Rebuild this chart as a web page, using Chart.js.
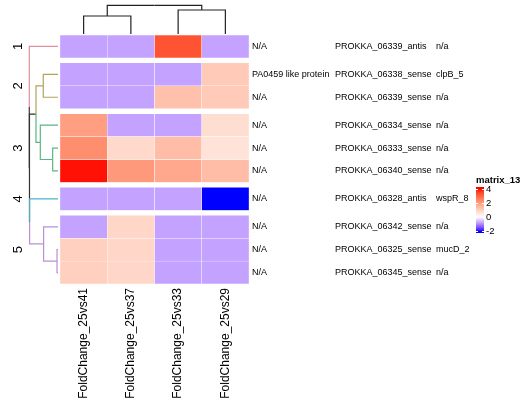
<!DOCTYPE html>
<html>
<head>
<meta charset="utf-8">
<script src="https://cdn.jsdelivr.net/npm/chart.js@4.4.1/dist/chart.umd.min.js"></script>
<style>
  html, body { margin: 0; padding: 0; background: #fff; }
  canvas { display: block; }
</style>
</head>
<body>
<canvas id="heatmap" width="528" height="406"></canvas>
<script>
// columns and rows, in the order the heatmap shows them
const colLabels = ['FoldChange_25vs41', 'FoldChange_25vs37', 'FoldChange_25vs33', 'FoldChange_25vs29'];
const rowDesc = ['N/A', 'PA0459 like protein', 'N/A', 'N/A', 'N/A', 'N/A', 'N/A', 'N/A', 'N/A', 'N/A'];
const rowIds = ['PROKKA_06339_antis', 'PROKKA_06338_sense', 'PROKKA_06339_sense', 'PROKKA_06334_sense',
  'PROKKA_06333_sense', 'PROKKA_06340_sense', 'PROKKA_06328_antis', 'PROKKA_06342_sense',
  'PROKKA_06325_sense', 'PROKKA_06345_sense'];
const rowGenes = ['n/a', 'clpB_5', 'n/a', 'n/a', 'n/a', 'n/a', 'wspR_8', 'n/a', 'mucD_2', 'n/a'];
const rowCluster = [1, 2, 2, 3, 3, 3, 4, 5, 5, 5];

// values per column
const fc25vs41 = [-0.8, -0.8, -0.8, 2.0, 2.3, 3.95, -0.8, -0.8, 1.0, 1.0];
const fc25vs37 = [-0.8, -0.8, -0.8, -0.8, 0.8, 2.1, -0.8, 0.85, 0.85, 0.85];
const fc25vs33 = [3.3, -0.8, 1.3, -0.8, 1.4, 1.8, -0.8, -0.8, -0.8, -0.8];
const fc25vs29 = [-0.8, 1.1, 1.1, 0.7, 0.6, 1.4, -2.0, -0.8, -0.8, -0.8];

// colour key
const legendTicks = [-2, 0, 2, 4];
const colourStops = [[-2, [0, 0, 255]], [0, [255, 255, 255]], [4, [255, 0, 0]]];

// dendrograms, hclust style: negative = leaf (1-based), positive = earlier merge
const rowMerges = [[-9, -10, 0.021], [-8, 1, 0.305], [-5, -6, 0.113], [-4, 3, 0.375], [-2, -3, 0.312],
  [5, 4, 0.466], [-7, 2, 0.601], [6, 7, 0.604], [-1, 8, 0.608]];
const colMerges = [[-1, -2, 0.786], [-3, -4, 1.048], [1, 2, 1.253]];
const clusterColours = ['#E28EA2', '#B5A25A', '#58B682', '#4EB2CC', '#B98FD9'];

// --- colour mapping in Lab space (like colorRamp2) ---
function toLin(c) { c /= 255; return c <= 0.04045 ? c / 12.92 : Math.pow((c + 0.055) / 1.055, 2.4); }
function toSrgb(c) { c = Math.min(1, Math.max(0, c)); return 255 * (c <= 0.0031308 ? 12.92 * c : 1.055 * Math.pow(c, 1 / 2.4) - 0.055); }
function rgbToLab([r, g, b]) {
    r = toLin(r); g = toLin(g); b = toLin(b);
    const X = (0.4124 * r + 0.3576 * g + 0.1805 * b) / 0.95047;
    const Y = 0.2126 * r + 0.7152 * g + 0.0722 * b;
    const Z = (0.0193 * r + 0.1192 * g + 0.9505 * b) / 1.08883;
    const f = t => t > 0.008856 ? Math.cbrt(t) : 7.787 * t + 16 / 116;
    return [116 * f(Y) - 16, 500 * (f(X) - f(Y)), 200 * (f(Y) - f(Z))];
}
function labToRgb([L, a, b]) {
    const fy = (L + 16) / 116, fx = fy + a / 500, fz = fy - b / 200;
    const inv = t => t ** 3 > 0.008856 ? t ** 3 : (t - 16 / 116) / 7.787;
    const X = 0.95047 * inv(fx), Y = inv(fy), Z = 1.08883 * inv(fz);
    return [toSrgb(3.2406 * X - 1.5372 * Y - 0.4986 * Z),
        toSrgb(-0.9689 * X + 1.8758 * Y + 0.0415 * Z),
        toSrgb(0.0557 * X - 0.2040 * Y + 1.0570 * Z)];
}
function colour(v) {
    v = Math.min(colourStops[colourStops.length - 1][0], Math.max(colourStops[0][0], v));
    let i = 0;
    while (i < colourStops.length - 2 && v > colourStops[i + 1][0]) i++;
    const [v0, c0] = colourStops[i], [v1, c1] = colourStops[i + 1];
    const t = (v - v0) / (v1 - v0);
    const l0 = rgbToLab(c0), l1 = rgbToLab(c1);
    const rgb = labToRgb(l0.map((x, k) => x + (l1[k] - x) * t));
    return 'rgb(' + rgb.map(Math.round).join(',') + ')';
}

// --- row layout: a small gap between clusters ---
const GAP = 0.22;
const rowTop = rowCluster.map((c, i) => i + GAP * (c - 1));
const rowMid = rowTop.map(t => t + 0.5);
const Y_MAX = rowCluster.length + GAP * (Math.max(...rowCluster) - 1);
const ROW_LEAF_X = -0.042;
const COL_LEAF_Y = -0.044;

const columns = [fc25vs41, fc25vs37, fc25vs33, fc25vs29];
const cells = [];
const cellColours = [];
columns.forEach((vals, c) => vals.forEach((v, r) => {
    cells.push({ x: c + 0.5, y: [rowTop[r], rowTop[r] + 1] });
    cellColours.push(colour(v));
}));

function treeSegments(merges, leafPos, leafCluster) {
    const nodes = [], segs = [];
    const get = ref => ref < 0 ? { pos: leafPos[-ref - 1], h: 0, cl: leafCluster[-ref - 1] } : nodes[ref - 1];
    merges.forEach(([a, b, h]) => {
        const ca = get(a), cb = get(b);
        const n = { pos: (ca.pos + cb.pos) / 2, h: h, cl: ca.cl && ca.cl === cb.cl ? ca.cl : 0 };
        segs.push({ c: ca, n: n }, { c: cb, n: n });
        nodes.push(n);
    });
    return segs;
}

function lineSet(points, col) {
    return {
        type: 'line', data: points, borderColor: col, borderWidth: 1.2, pointRadius: 0,
        fill: false, tension: 0, clip: false, order: 0
    };
}

const dendroSets = [];
treeSegments(rowMerges, rowMid, rowCluster).forEach(({ c, n }) => {
    dendroSets.push(lineSet([
        { x: ROW_LEAF_X - c.h, y: c.pos },
        { x: ROW_LEAF_X - n.h, y: c.pos },
        { x: ROW_LEAF_X - n.h, y: n.pos }
    ], c.cl ? clusterColours[c.cl - 1] : '#333'));
});
treeSegments(colMerges, colLabels.map((_, i) => i + 0.5), colLabels.map(() => 0)).forEach(({ c, n }) => {
    dendroSets.push(lineSet([
        { x: c.pos, y: COL_LEAF_Y - c.h },
        { x: c.pos, y: COL_LEAF_Y - n.h },
        { x: n.pos, y: COL_LEAF_Y - n.h }
    ], '#222'));
});

const labelFont = { family: '"Liberation Sans", Arial, sans-serif', size: 9 };

function labelAxis(texts, width, weight) {
    return {
        type: 'linear', position: 'right', weight: weight, min: 0, max: Y_MAX, reverse: true,
        grid: { display: false, drawTicks: false }, border: { display: false },
        afterBuildTicks: s => { s.ticks = rowMid.map(v => ({ value: v })); },
        afterFit: s => { s.width = width; },
        ticks: { autoSkip: false, padding: 3, color: '#000', font: labelFont, callback: (v, i) => texts[i] }
    };
}

const clusterNumbers = {
    id: 'clusterNumbers',
    afterDraw(chart) {
        const ctx = chart.ctx, y = chart.scales.y;
        ctx.save();
        ctx.fillStyle = '#000';
        ctx.font = '13px "Liberation Sans", Arial, sans-serif';
        ctx.textAlign = 'center';
        ctx.textBaseline = 'middle';
        clusterColours.forEach((_, k) => {
            const mids = rowMid.filter((m, i) => rowCluster[i] === k + 1);
            const py = y.getPixelForValue(mids.reduce((a, b) => a + b, 0) / mids.length);
            ctx.save();
            ctx.translate(18.5, py);
            ctx.rotate(-Math.PI / 2);
            ctx.fillText(String(k + 1), 0, 0);
            ctx.restore();
        });
        ctx.restore();
    }
};

const colourKey = {
    id: 'colourKey',
    afterDraw(chart) {
        const ctx = chart.ctx;
        const x0 = 476, w = 8, top = 187, bottom = 233;
        const vTop = 4.3, vBot = -2.3;
        const yOf = v => top + (vTop - v) / (vTop - vBot) * (bottom - top);
        ctx.save();
        const grad = ctx.createLinearGradient(0, top, 0, bottom);
        for (let i = 0; i <= 30; i++) {
            const v = vTop - (vTop - vBot) * i / 30;
            grad.addColorStop(i / 30, colour(v));
        }
        ctx.fillStyle = grad;
        ctx.fillRect(x0, top, w, bottom - top);
        ctx.strokeStyle = '#fff';
        ctx.lineWidth = 1;
        ctx.fillStyle = '#000';
        ctx.font = '9.5px "Liberation Sans", Arial, sans-serif';
        ctx.textBaseline = 'middle';
        ctx.textAlign = 'left';
        legendTicks.forEach(t => {
            const py = Math.round(yOf(t)) + 0.5;
            ctx.beginPath();
            ctx.moveTo(x0, py); ctx.lineTo(x0 + 2, py);
            ctx.moveTo(x0 + w - 2, py); ctx.lineTo(x0 + w, py);
            ctx.stroke();
            ctx.fillText(String(t), x0 + w + 2, py);
        });
        ctx.font = 'bold 9.5px "Liberation Sans", Arial, sans-serif';
        ctx.textBaseline = 'alphabetic';
        ctx.fillText('matrix_13', x0, 183);
        ctx.restore();
    }
};

new Chart(document.getElementById('heatmap'), {
    type: 'bar',
    data: {
        datasets: [{
            type: 'bar', data: cells, backgroundColor: cellColours,
            borderColor: 'rgba(255,255,255,0.8)', borderWidth: 0.5, borderSkipped: false,
            barPercentage: 1, categoryPercentage: 1, order: 1
        }].concat(dendroSets)
    },
    options: {
        responsive: false,
        animation: false,
        layout: { padding: { left: 60, top: 35, right: 52, bottom: 0 } },
        plugins: { legend: { display: false }, tooltip: { enabled: false } },
        scales: {
            x: {
                type: 'linear', min: 0, max: 4, offset: false,
                grid: { display: false, drawTicks: false }, border: { display: false },
                afterBuildTicks: s => { s.ticks = colLabels.map((_, i) => ({ value: i + 0.5 })); },
                afterFit: s => { s.height = 122; },
                ticks: {
                    autoSkip: false, minRotation: 90, maxRotation: 90, padding: 4, color: '#000',
                    font: { family: labelFont.family, size: 12 }, callback: (v, i) => colLabels[i]
                }
            },
            y: { type: 'linear', display: false, min: 0, max: Y_MAX, reverse: true },
            yDesc: labelAxis(rowDesc, 83, 1),
            yId: labelAxis(rowIds, 101, 2),
            yGene: labelAxis(rowGenes, 43, 3)
        }
    },
    plugins: [clusterNumbers, colourKey]
});
</script>
</body>
</html>
